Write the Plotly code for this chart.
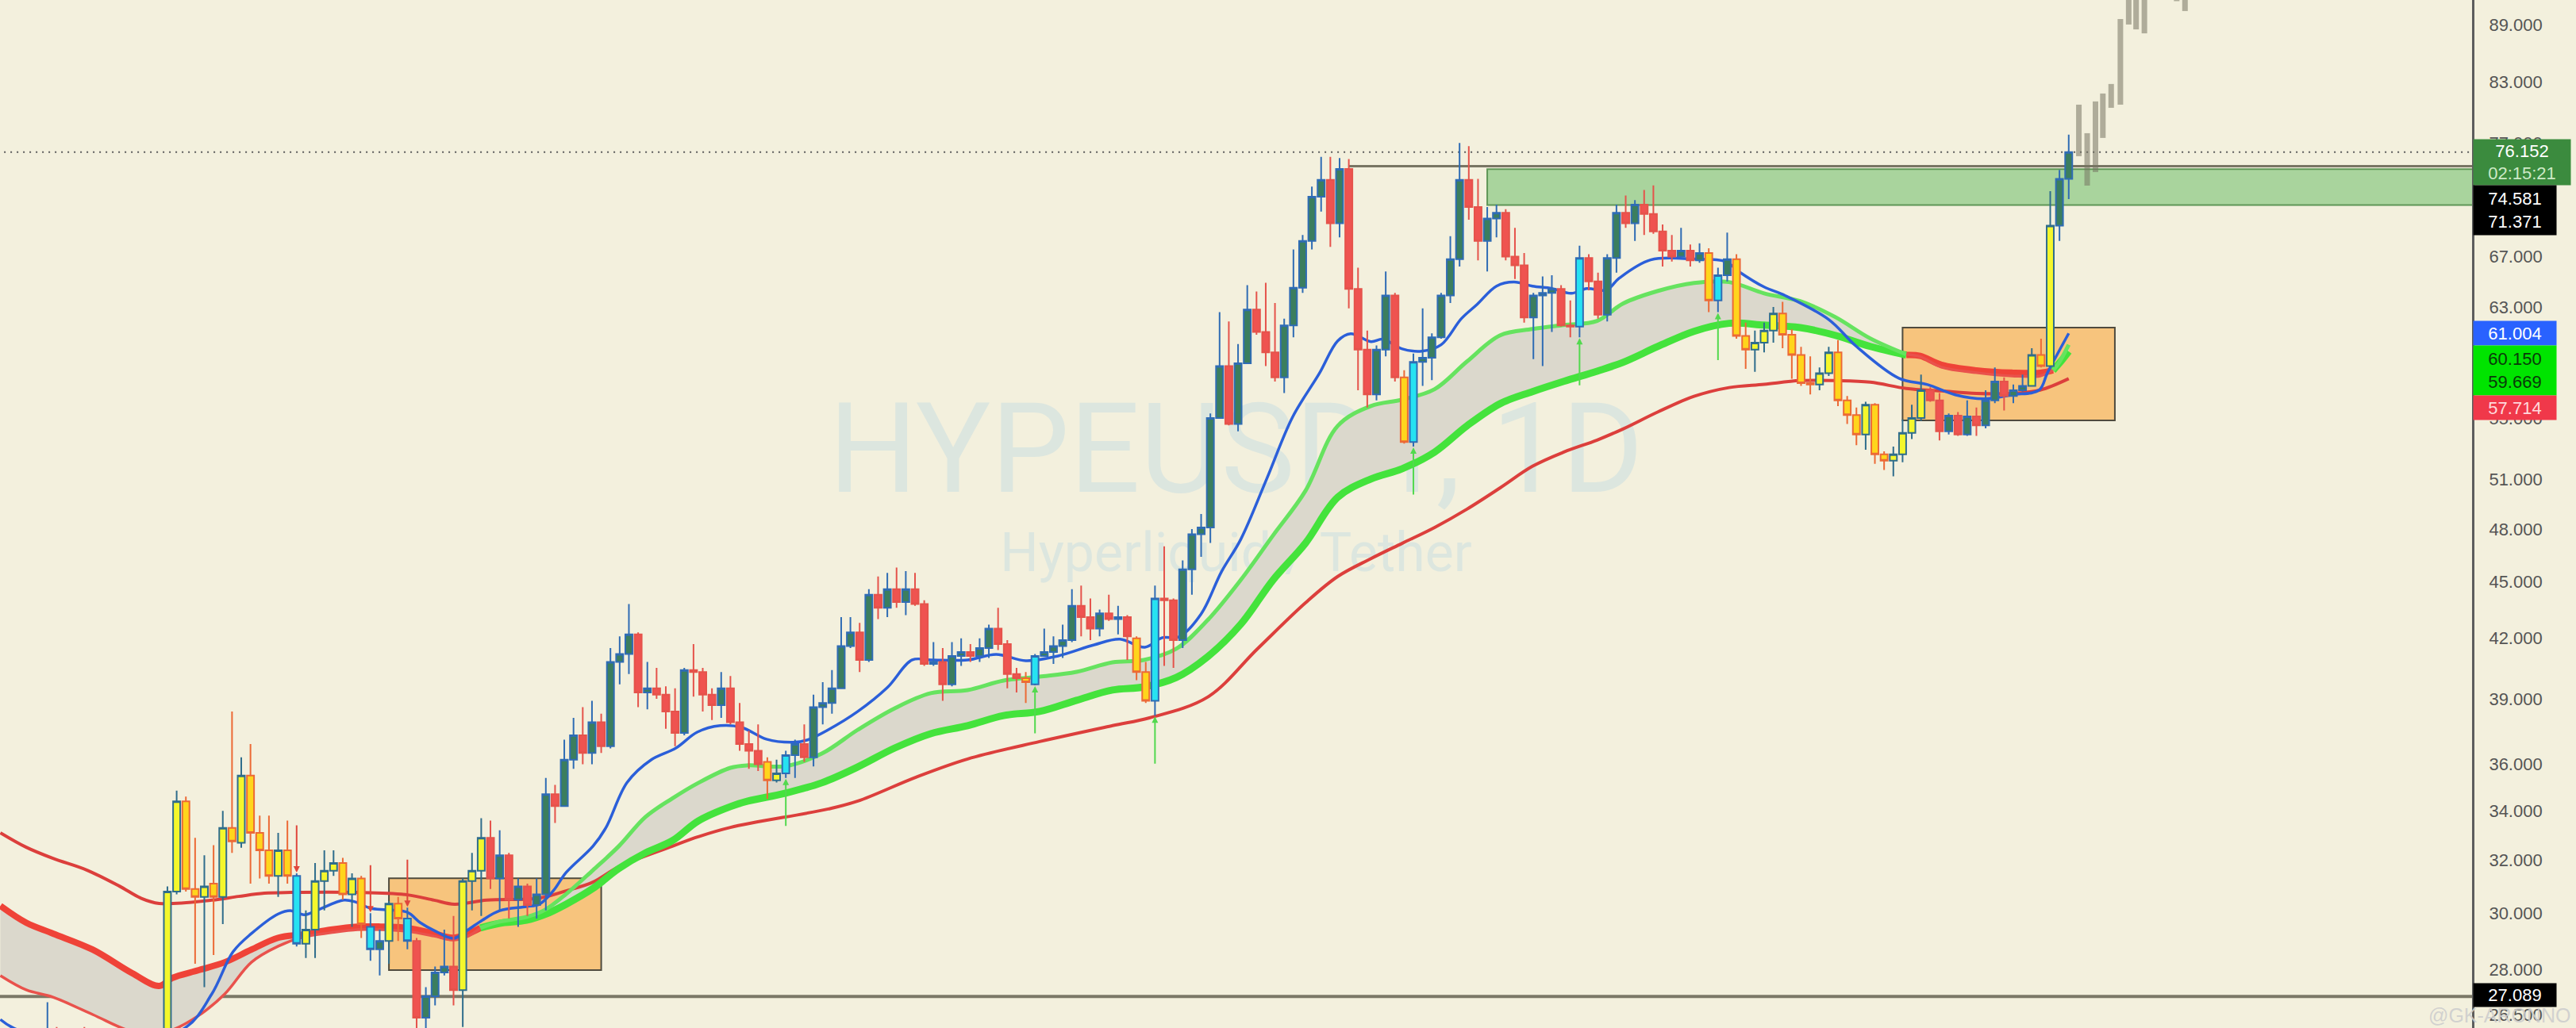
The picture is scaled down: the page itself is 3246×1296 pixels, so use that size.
import math
import plotly.graph_objects as go

# ---------------- data (daily candles, x = day index) ----------------
candle_x = [-13, -12, -9] + list(range(0, 207))

opens = [25.0, 25.6, 25.5,
    25.4, 30.8, 34.4, 30.9, 30.6, 31.1, 30.6, 33.3, 32.7, 35.5,
    33.1, 32.4, 31.4, 32.4, 31.4, 28.9, 29.4, 31.2, 31.6, 31.9,
    30.7, 31.3, 29.5, 28.7, 29.0, 30.35, 29.8, 29.0, 26.4, 27.1,
    27.9, 28.1, 27.3, 31.2, 31.6, 32.9, 31.3, 32.2, 30.5, 31.0,
    30.3, 30.7, 34.7, 34.2, 36.2, 37.3, 36.5, 37.9, 36.8, 40.8,
    41.2, 42.2, 39.3, 39.5, 39.2, 38.4, 37.4, 40.4, 40.3, 39.2,
    38.7, 39.5, 37.9, 36.9, 36.6, 36.1, 35.3, 35.6, 36.4, 36.9,
    36.3, 38.6, 38.8, 39.5, 41.6, 42.3, 40.9, 44.3, 43.6, 44.6,
    43.9, 44.6, 43.8, 40.7, 40.8, 39.7, 41.1, 41.3, 41.1, 41.5,
    42.5, 41.7, 40.2, 40.0, 39.7, 41.1, 41.3, 41.6, 41.9, 43.7,
    43.1, 42.5, 43.3, 43.0, 43.1, 42.0, 40.3, 38.9, 44.1, 44.0,
    41.9, 45.7, 47.7, 48.1, 55.0, 58.6, 54.6, 58.8, 62.8, 61.1,
    59.6, 57.8, 61.6, 64.5, 68.3, 72.1, 73.6, 69.8, 74.6, 64.4,
    59.8, 56.6, 59.8, 63.9, 57.8, 53.4, 58.9, 59.2, 60.7, 63.9,
    66.8, 73.6, 71.2, 68.3, 70.2, 70.7, 67.0, 66.3, 62.2, 63.9,
    64.1, 64.4, 61.6, 61.5, 66.9, 65.0, 62.4, 66.9, 70.7, 69.8,
    71.4, 70.6, 69.1, 67.5, 67.0, 67.5, 66.7, 67.3, 63.5, 65.5,
    66.8, 60.8, 59.8, 60.3, 61.2, 62.5, 60.9, 59.4, 57.4, 57.3,
    58.1, 59.6, 56.2, 55.2, 53.9, 55.9, 52.6, 52.2, 52.6, 54.0,
    55.0, 56.9, 56.2, 54.1, 55.15, 53.9, 55.1, 54.5, 56.2, 57.5,
    56.5, 56.9, 57.2, 59.4, 58.6, 69.6, 73.7]

highs = [26.9, 26.1, 26.1,
    31.0, 34.85, 34.6, 32.9, 32.2, 32.6, 34.0, 38.4, 36.3, 36.9,
    33.8, 33.8, 33.1, 33.6, 31.5, 30.1, 31.9, 32.4, 32.4, 32.1,
    31.5, 31.4, 30.0, 29.4, 30.45, 30.6, 30.2, 29.1, 27.4, 28.1,
    29.4, 29.9, 31.3, 32.3, 33.7, 33.6, 33.2, 32.3, 31.3, 31.1,
    31.3, 35.4, 35.1, 37.1, 38.1, 38.6, 38.9, 38.3, 41.5, 42.1,
    43.8, 42.3, 40.8, 40.5, 39.6, 39.5, 40.5, 41.7, 40.5, 39.5,
    40.3, 40.1, 38.8, 37.5, 37.8, 36.3, 36.2, 36.6, 37.1, 37.8,
    39.2, 39.8, 40.4, 43.1, 43.1, 42.8, 44.6, 45.3, 45.5, 45.8,
    45.6, 45.5, 44.0, 41.8, 41.5, 41.8, 42.0, 41.7, 42.0, 42.7,
    43.6, 41.9, 40.5, 40.3, 41.2, 42.5, 42.1, 42.7, 44.6, 44.8,
    44.1, 43.5, 44.3, 43.7, 43.2, 42.1, 40.8, 44.8, 47.0, 44.1,
    46.2, 48.0, 48.9, 55.3, 62.6, 61.9, 60.2, 64.7, 64.2, 64.9,
    63.3, 62.1, 67.6, 68.8, 73.0, 75.7, 75.7, 75.6, 75.5, 66.1,
    61.2, 60.1, 65.8, 64.1, 58.3, 59.5, 62.9, 61.0, 64.1, 68.7,
    77.0, 76.7, 73.7, 71.2, 71.4, 71.0, 69.4, 67.3, 64.1, 65.4,
    65.5, 64.7, 63.5, 67.9, 67.2, 65.7, 67.2, 71.4, 72.2, 71.8,
    72.7, 73.1, 69.7, 68.8, 69.4, 68.0, 68.1, 67.7, 66.1, 69.0,
    67.2, 61.8, 61.2, 61.8, 63.0, 63.4, 61.3, 60.0, 59.3, 58.5,
    60.0, 60.5, 56.5, 55.7, 56.1, 56.0, 52.8, 53.1, 54.9, 55.9,
    58.0, 57.1, 56.7, 55.3, 55.4, 56.2, 55.7, 56.9, 58.5, 57.8,
    57.3, 58.0, 59.9, 60.6, 72.6, 74.5, 77.8]

lows = [24.8, 25.0, 24.9,
    25.2, 30.7, 30.8, 28.2, 27.4, 28.5, 29.6, 32.3, 32.5, 31.1,
    31.3, 31.1, 30.6, 31.1, 28.8, 28.4, 28.4, 30.1, 31.4, 30.5,
    29.5, 29.1, 28.3, 27.8, 28.2, 29.0, 28.7, 25.9, 25.9, 26.8,
    27.8, 26.8, 26.1, 30.1, 29.9, 30.9, 30.1, 29.8, 29.5, 29.9,
    29.8, 30.1, 33.5, 34.2, 35.8, 36.0, 36.0, 36.5, 36.7, 39.7,
    40.2, 38.6, 38.5, 39.0, 37.6, 36.8, 37.3, 39.1, 38.4, 38.0,
    38.1, 37.8, 36.6, 35.8, 35.7, 34.5, 35.2, 35.4, 35.4, 36.1,
    35.9, 37.8, 38.3, 39.5, 41.5, 40.3, 40.8, 43.0, 43.1, 43.6,
    43.2, 43.7, 40.6, 40.6, 38.9, 39.6, 40.6, 40.8, 40.8, 41.0,
    41.4, 39.5, 39.3, 38.8, 39.65, 41.1, 40.7, 41.0, 41.8, 42.1,
    41.9, 42.1, 42.9, 42.2, 40.9, 39.9, 38.8, 38.2, 40.6, 40.5,
    41.5, 44.3, 46.4, 47.2, 55.0, 54.5, 54.1, 58.8, 60.9, 58.6,
    57.5, 56.7, 60.7, 64.1, 67.6, 70.8, 67.8, 68.6, 62.9, 56.9,
    55.7, 56.2, 59.3, 57.5, 53.3, 53.1, 57.2, 57.6, 60.6, 63.3,
    66.2, 70.1, 66.7, 65.8, 68.6, 66.7, 65.2, 61.8, 59.1, 58.6,
    61.1, 61.5, 60.7, 60.7, 64.3, 62.1, 61.9, 65.7, 69.4, 68.3,
    68.8, 68.9, 66.2, 66.6, 67.0, 66.2, 66.5, 62.6, 62.6, 65.0,
    60.6, 58.4, 58.2, 59.6, 60.3, 59.9, 57.7, 57.2, 56.6, 56.9,
    57.9, 55.8, 54.6, 53.2, 52.9, 52.0, 51.6, 51.2, 52.1, 53.6,
    54.8, 56.1, 53.5, 53.9, 53.8, 53.8, 53.8, 54.3, 56.0, 55.5,
    56.0, 56.8, 57.2, 58.5, 58.5, 68.3, 71.9]

closes = [25.6, 25.2, 25.1,
    30.8, 34.4, 30.9, 30.6, 31.0, 30.6, 33.3, 32.75, 35.5, 33.1,
    32.4, 31.4, 32.4, 31.4, 28.9, 29.4, 31.2, 31.6, 31.9, 30.7,
    31.3, 29.6, 28.7, 29.0, 30.35, 29.8, 29.0, 26.4, 27.1, 27.9,
    28.1, 27.3, 31.2, 31.6, 32.9, 31.3, 32.2, 30.5, 31.0, 30.3,
    30.7, 34.7, 34.2, 36.2, 37.3, 36.5, 37.9, 36.8, 40.8, 41.2,
    42.2, 39.3, 39.5, 39.2, 38.4, 37.4, 40.4, 40.3, 39.2, 38.7,
    39.5, 37.9, 36.9, 36.6, 36.0, 35.3, 35.6, 36.4, 36.9, 36.3,
    38.6, 38.8, 39.5, 41.6, 42.3, 40.9, 44.3, 43.6, 44.6, 43.9,
    44.6, 43.8, 40.7, 40.8, 39.7, 41.1, 41.3, 41.1, 41.5, 42.5,
    41.7, 40.2, 40.0, 39.8, 41.1, 41.3, 41.6, 41.9, 43.7, 43.1,
    42.5, 43.3, 43.0, 43.1, 42.1, 40.3, 38.9, 44.1, 44.0, 41.9,
    45.7, 47.7, 48.1, 55.0, 58.6, 54.6, 58.8, 62.8, 61.1, 59.6,
    57.8, 61.6, 64.5, 68.3, 72.1, 73.6, 69.8, 74.6, 64.4, 59.8,
    56.6, 59.8, 63.9, 57.8, 53.4, 58.9, 59.2, 60.7, 63.9, 66.8,
    73.6, 71.2, 68.3, 70.2, 70.7, 67.0, 66.3, 62.2, 63.9, 64.1,
    64.4, 61.6, 61.5, 66.9, 65.0, 62.4, 66.9, 70.7, 69.8, 71.4,
    70.6, 69.1, 67.5, 67.0, 67.5, 66.7, 67.3, 63.5, 65.5, 66.8,
    60.8, 59.8, 60.3, 61.2, 62.5, 60.9, 59.4, 57.4, 57.3, 58.1,
    59.6, 56.2, 55.2, 53.9, 55.9, 52.6, 52.2, 52.6, 54.0, 55.0,
    56.9, 56.2, 54.1, 55.15, 53.9, 55.1, 54.5, 56.2, 57.5, 56.5,
    56.9, 57.2, 59.4, 58.6, 69.6, 73.7, 76.152]

# N = normal, Y = yellow-painted, C = cyan signal candle
candle_kind = list("NNN"
    "YYYYYYYYYY" "YYYYCYYYYY" "YYCNYYCNNN" "NNYYYNNNNN" "NNNNNNNNNN"
    "NNNNNNNNNN" "NNNNNYYCNN" "NNNNNNNNNN" "NNNNNNNNNN" "NNNYCNNNNN"
    "NNNNNYYCNN" "NNNNNNNNNN" "NNNNNNNNNN" "NNNNYCNNNN" "NNNNNNNNNN"
    "NNNCNNNNNN" "NNNNNNNYCN" "YYYYYYYYYY" "YYYYYYYYYY" "YNNNNNNNNN"
    "NNYYYNN")

buy_signal_days = [67, 94, 107, 135, 153, 168]
sell_signal_days = [14, 22, 26]

# projected bars pattern (ghost bars)
proj_x = [207.1, 208.0, 208.9, 209.7, 210.6, 211.6, 212.5, 213.3, 214.2, 217.7, 218.6]
proj_lo = [75.77, 73.09, 74.31, 77.48, 80.39, 80.70, 89.02, 88.49, 88.06, 91.6, 90.5]
proj_hi = [80.70, 77.93, 81.02, 81.81, 82.77, 89.62, 94.0, 94.5, 95.0, 96.0, 95.5]

# moving averages (sampled)
ema200_x = [-18.1, -15.3, -12.4, -8.7, -5.2, -2.9, -0.9, 4.8, 7.7, 10.5, 13.4, 20.6, 26.0,
            28.9, 31.1, 34.6, 40.3, 43.2, 46.1, 48.9, 54.7, 57.5, 61.0, 71.6, 74.8, 81.1,
            86.7, 94.5, 102.4, 106.4, 112.7, 118.1, 123.3, 126.8, 130.4, 133.8, 137.3,
            140.8, 144.4, 147.9, 151.3, 154.9, 157.7, 161.5, 165.4, 169.2, 173.0, 176.9,
            180.7, 184.5, 188.4, 192.2, 196.0, 199.9, 202.9, 206.0]
ema200_y = [33.10, 32.52, 32.08, 31.62, 31.01, 30.56, 30.36, 30.48, 30.62, 30.74, 30.77,
            30.77, 30.68, 30.48, 30.33, 30.48, 30.56, 30.83, 31.16, 31.75, 32.56, 32.94,
            33.32, 34.08, 34.41, 35.43, 36.23, 37.01, 37.74, 38.10, 39.08, 41.46, 43.86,
            45.30, 46.30, 47.18, 48.10, 49.19, 50.49, 51.84, 52.75, 53.53, 54.26, 55.41,
            56.47, 57.08, 57.31, 57.57, 57.57, 57.46, 57.02, 56.85, 56.68, 56.68, 56.91, 57.71]

blue_x = [-18.1, -16.7, -8.0, 1.9, 4.8, 7.1, 9.1, 12.0, 13.4, 14.8, 16.3, 19.1, 20.3, 22.0,
          23.7, 26.0, 27.4, 28.9, 31.0, 32.6, 34.1, 36.0, 38.9, 40.3, 41.8, 43.2, 46.1, 47.5,
          49.8, 52.4, 55.1, 57.4, 59.9, 62.2, 64.9, 67.8, 69.3, 71.6, 74.8, 78.0, 80.7, 82.7,
          86.7, 89.8, 93.0, 96.5, 100.4, 103.2, 105.9, 107.8, 109.6, 112.0, 114.2, 116.3,
          119.1, 121.9, 124.8, 126.8, 128.2, 130.4, 131.7, 133.8, 135.9, 138.0, 140.2, 141.9,
          144.0, 145.9, 147.9, 150.0, 152.1, 153.8, 155.9, 157.3, 160.7, 165.4, 168.8, 170.3,
          173.0, 175.3, 180.0, 183.0, 187.6, 190.7, 193.7, 196.8, 199.9, 202.8, 203.7, 206.0]
blue_y = [26.34, 26.07, 25.3, 26.07, 27.17, 28.61, 29.26, 29.97, 30.09, 29.94, 30.12, 30.48,
          30.42, 30.18, 30.12, 30.03, 29.65, 29.37, 29.09, 29.40, 29.74, 30.09, 30.24, 30.33,
          30.83, 31.53, 32.56, 33.30, 35.20, 36.19, 36.72, 37.44, 37.74, 37.66, 37.12, 36.98,
          37.08, 37.55, 38.40, 39.54, 40.90, 40.90, 40.90, 41.18, 40.86, 41.10, 41.66, 41.95,
          41.54, 42.03, 42.07, 43.27, 45.56, 47.41, 51.04, 55.05, 58.07, 60.44, 60.97, 60.38,
          60.56, 59.85, 59.68, 60.15, 62.11, 63.20, 64.63, 64.95, 64.63, 64.44, 64.06, 64.44,
          64.31, 65.26, 66.74, 66.81, 66.61, 65.77, 64.56, 63.88, 62.04, 60.03, 57.74, 57.29,
          56.58, 56.30, 56.58, 56.91, 58.13, 61.00]

ribbon_x = [-18.1, -15.3, -12.4, -8.1, -3.8, -0.9, 0.5, 3.4, 6.2, 9.1, 12.0, 14.8, 17.7, 20.6,
            23.1, 26.0, 28.9, 30.9, 32.6, 33.9, 36.0, 38.9, 40.9, 43.2, 46.1, 48.9, 51.8, 54.7,
            57.5, 61.0, 62.9, 66.9, 70.9, 74.8, 78.8, 82.7, 86.7, 90.6, 94.5, 98.5, 102.4, 105.8,
            109.3, 112.7, 116.3, 119.8, 123.3, 126.8, 130.4, 133.8, 137.3, 140.8, 144.4, 147.9,
            151.3, 154.9, 157.7, 161.5, 165.4, 169.2, 173.0, 176.9, 180.7, 184.5, 188.4, 189.9,
            192.2, 196.0, 199.9, 202.9, 204.3, 205.0, 206.0]
ribbon_fast = [27.79, 27.31, 27.07, 26.50, 25.95, 25.90, 26.00, 26.47, 27.17, 28.25, 28.81,
               29.14, 29.29, 29.40, 29.40, 29.34, 29.17, 29.03, 29.17, 29.46, 29.69, 29.86,
               30.12, 30.71, 31.62, 32.56, 33.75, 34.52, 35.18, 35.84, 35.95, 35.91, 36.47,
               37.55, 38.55, 39.27, 39.42, 39.88, 40.07, 40.31, 40.78, 40.90, 41.46, 42.94,
               45.11, 47.64, 50.30, 54.47, 55.81, 56.25, 56.97, 58.93, 60.85, 61.32, 61.62,
               61.93, 63.26, 64.25, 64.88, 64.95, 64.06, 63.45, 62.23, 60.62, 59.45, 59.28,
               58.53, 58.13, 57.90, 57.90, 58.30, 58.90, 60.15]
ribbon_slow = [30.27, 29.65, 29.26, 28.69, 27.87, 27.44, 27.71, 27.98, 28.25, 28.69, 29.11,
               29.23, 29.40, 29.51, 29.51, 29.46, 29.26, 29.11, 29.26, 29.46, 29.63, 29.74,
               29.95, 30.33, 30.92, 31.68, 32.30, 32.78, 33.58, 34.18, 34.41, 34.74, 35.19,
               35.88, 36.72, 37.37, 37.74, 38.21, 38.40, 38.93, 39.42, 39.57, 40.03, 41.06,
               42.73, 45.11, 47.18, 49.91, 51.04, 51.69, 52.75, 54.47, 55.97, 56.80, 57.52,
               58.24, 58.87, 60.03, 61.15, 61.75, 61.62, 61.43, 60.85, 60.03, 59.40, 59.34,
               58.70, 58.30, 58.13, 58.13, 58.30, 58.82, 59.67]

# drawings
zone_boxes = [(24, 47, 27.98, 31.31), (188, 211, 54.84, 61.43)]   # (start, end, low, high)
supply_zone = (143, 71.371, 74.581)                               # (start, low, high)
resistance = (128, 74.85)                                         # (start, level)
support_level = 27.089
last_price = 76.152

price_ticks = [26.5, 28, 30, 32, 34, 36, 39, 42, 45, 48, 51, 55, 63, 67, 77, 83, 89]

# ---------------- figure ----------------
BG = '#f3f0dd'
X_LEFT, X_RIGHT = -18.14, 249.7
Y_LOW, Y_HIGH = 26.066, 91.73
L10 = math.log10

fig = go.Figure()


def add_line(x, y, color, width, dash=None, shape='linear', fill=None, fillcolor=None, yaxis='y'):
    fig.add_trace(go.Scatter(x=x, y=y, mode='lines', yaxis=yaxis,
                             line=dict(color=color, width=width, dash=dash, shape=shape),
                             fill=fill, fillcolor=fillcolor, hoverinfo='skip', showlegend=False))


# drawn rectangles / levels (shapes use data values on the log axis)
for x0, x1, lo, hi in zone_boxes:
    fig.add_shape(type='rect', x0=x0, x1=x1, y0=lo, y1=hi, fillcolor='#f7c47d',
                  line=dict(color='#4f4b3e', width=2), layer='below')
fig.add_shape(type='rect', x0=supply_zone[0], x1=X_RIGHT + 3, y0=supply_zone[1], y1=supply_zone[2],
              fillcolor='#a9d49d', line=dict(color='#5f9657', width=2), layer='below')
fig.add_shape(type='line', x0=resistance[0], x1=X_RIGHT + 3, y0=resistance[1], y1=resistance[1],
              line=dict(color='#787563', width=3), layer='below')
fig.add_shape(type='line', x0=X_LEFT - 3, x1=X_RIGHT + 3, y0=support_level, y1=support_level,
              line=dict(color='#7b7867', width=4), layer='below')
fig.add_shape(type='line', x0=X_LEFT - 3, x1=X_RIGHT + 3, y0=last_price, y1=last_price,
              line=dict(color='#5a5a5a', width=2, dash='2px,6px'), layer='below')

# gray fill between the ribbon EMAs
add_line(ribbon_x, ribbon_slow, 'rgba(0,0,0,0)', 0, shape='spline')
add_line(ribbon_x, ribbon_fast, 'rgba(0,0,0,0)', 0, shape='spline', fill='tonexty', fillcolor='#dbd8cc')

# EMA 200
add_line(ema200_x, ema200_y, '#dc3f3c', 4, shape='spline')


def ribbon_segments():
    segs = []
    cur = None
    for i in range(len(ribbon_x) - 1):
        bull = (ribbon_fast[i] + ribbon_fast[i + 1]) > (ribbon_slow[i] + ribbon_slow[i + 1])
        if cur is None or cur[0] != bull:
            cur = [bull, [i, i + 1]]
            segs.append(cur)
        else:
            cur[1].append(i + 1)
    return segs


segs = ribbon_segments()
for bull, ids in segs:
    add_line([ribbon_x[i] for i in ids], [ribbon_slow[i] for i in ids],
             '#44e33c' if bull else '#ef4338', 9 if bull else 8, shape='spline')
for bull, ids in segs:
    add_line([ribbon_x[i] for i in ids], [ribbon_fast[i] for i in ids],
             '#66e35f' if bull else '#e9524c', 5 if bull else 3.5, shape='spline')

# fast EMA (blue)
add_line(blue_x, blue_y, '#2b5fd9', 3.5, shape='spline')

# ---- series layer (overlay axis so it sits above the indicators) ----
px, py = [], []
for x, lo, hi in zip(proj_x, proj_lo, proj_hi):
    px += [x, x, None]
    py += [lo, hi, None]
add_line(px, py, 'rgba(118,116,98,0.55)', 7, yaxis='y2')

styles = {
    'N': ('#3b7e5e', '#2f6cb4', '#ef5350', '#e5534b'),
    'Y': ('#f4f72c', '#2f6d8c', '#ffd51c', '#ec6a36'),
    'C': ('#26e2f2', '#2f6cb4', '#26e2f2', '#2f6cb4'),
}
for kind, (inc_f, inc_l, dec_f, dec_l) in styles.items():
    sel = [i for i, k in enumerate(candle_kind) if k == kind]
    fig.add_trace(go.Candlestick(
        x=[candle_x[i] for i in sel], open=[opens[i] for i in sel], high=[highs[i] for i in sel],
        low=[lows[i] for i in sel], close=[closes[i] for i in sel], yaxis='y2',
        increasing=dict(fillcolor=inc_f, line=dict(color=inc_l, width=2)),
        decreasing=dict(fillcolor=dec_f, line=dict(color=dec_l, width=2)),
        whiskerwidth=0, hoverinfo='skip', showlegend=False))

# signal arrows
for d in buy_signal_days:
    i = candle_x.index(d)
    fig.add_annotation(x=d, y=L10(lows[i]), ax=0, ay=62, text='', showarrow=True, arrowhead=2,
                       arrowsize=0.8, arrowwidth=2, arrowcolor='#52d94e', standoff=1)
for d in sell_signal_days:
    i = candle_x.index(d)
    fig.add_annotation(x=d, y=L10(highs[i]), ax=0, ay=-62, text='', showarrow=True, arrowhead=2,
                       arrowsize=0.8, arrowwidth=2, arrowcolor='#e0463c', standoff=1)

# symbol watermark (below the series)
fig.add_shape(type='rect', xref='paper', yref='paper', x0=0.2, x1=0.8, y0=0.515, y1=0.629,
              line=dict(width=0), fillcolor='rgba(0,0,0,0)', layer='below',
              label=dict(text='HYPEUSDT, 1D', textposition='middle center',
                         font=dict(family='Roboto', size=157, color='#dce6df')))
fig.add_shape(type='rect', xref='paper', yref='paper', x0=0.3, x1=0.7, y0=0.431, y1=0.501,
              line=dict(width=0), fillcolor='rgba(0,0,0,0)', layer='below',
              label=dict(text='Hyperliquid / Tether', textposition='middle center',
                         font=dict(family='Roboto', size=68, color='#dce6df')))


# price-scale labels
def price_box(text, price, bg, fg, yshift, w=100, h=26):
    fig.add_annotation(xref='paper', x=1, xanchor='left', xshift=1, y=L10(price), yanchor='middle',
                       yshift=yshift, text=text, showarrow=False, bgcolor=bg, borderpad=2,
                       width=w, height=h, align='center',
                       font=dict(family='Liberation Sans', size=22, color=fg))


price_box('76.152<br><span style="color:#cde9c6">02:15:21</span>', last_price, '#3b8b3e', '#ffffff',
          -13, w=118, h=53)
price_box('74.581<br>71.371', 71.371, '#000000', '#ffffff', -7, h=58)
price_box('61.004', 61.004, '#2962ff', '#ffffff', 0)
price_box('60.150<br>59.669', 59.669, '#00e400', '#0a3a0a', -24, h=58)
price_box('57.714', 57.714, '#f0384a', '#ffd9dc', -37)
price_box('27.089', support_level, '#000000', '#ffffff', 2, h=25)

fig.add_annotation(xref='paper', yref='paper', x=1, y=0, xanchor='right', yanchor='bottom',
                   xshift=127, yshift=0, text='@GK-ARONNO', showarrow=False,
                   font=dict(family='Liberation Sans', size=25, color='rgba(205,205,205,0.9)'))

yrange = [L10(Y_LOW), L10(Y_HIGH)]
fig.update_layout(
    width=3246, height=1296, margin=dict(l=0, r=131, t=0, b=0, pad=0),
    paper_bgcolor=BG, plot_bgcolor=BG, showlegend=False,
    boxgap=0.23, boxgroupgap=0,
    xaxis=dict(range=[X_LEFT, X_RIGHT], showgrid=False, zeroline=False, showticklabels=False,
               showline=False, rangeslider=dict(visible=False)),
    yaxis=dict(type='log', range=yrange, side='right', showgrid=False,
               zeroline=False, showline=True, linecolor='#5d5d5d', linewidth=3,
               tickvals=price_ticks, ticktext=['%.3f' % v for v in price_ticks], ticks='',
               ticklabelstandoff=14,
               tickfont=dict(family='Liberation Sans', size=22, color='#555555')),
    yaxis2=dict(type='log', range=yrange, overlaying='y', side='right', visible=False,
                showgrid=False, zeroline=False),
)

fig.write_html('out.html', config={'displayModeBar': False},
               post_script="document.body.style.margin='0';document.body.style.padding='0';"
                           "document.body.style.overflow='hidden';")
